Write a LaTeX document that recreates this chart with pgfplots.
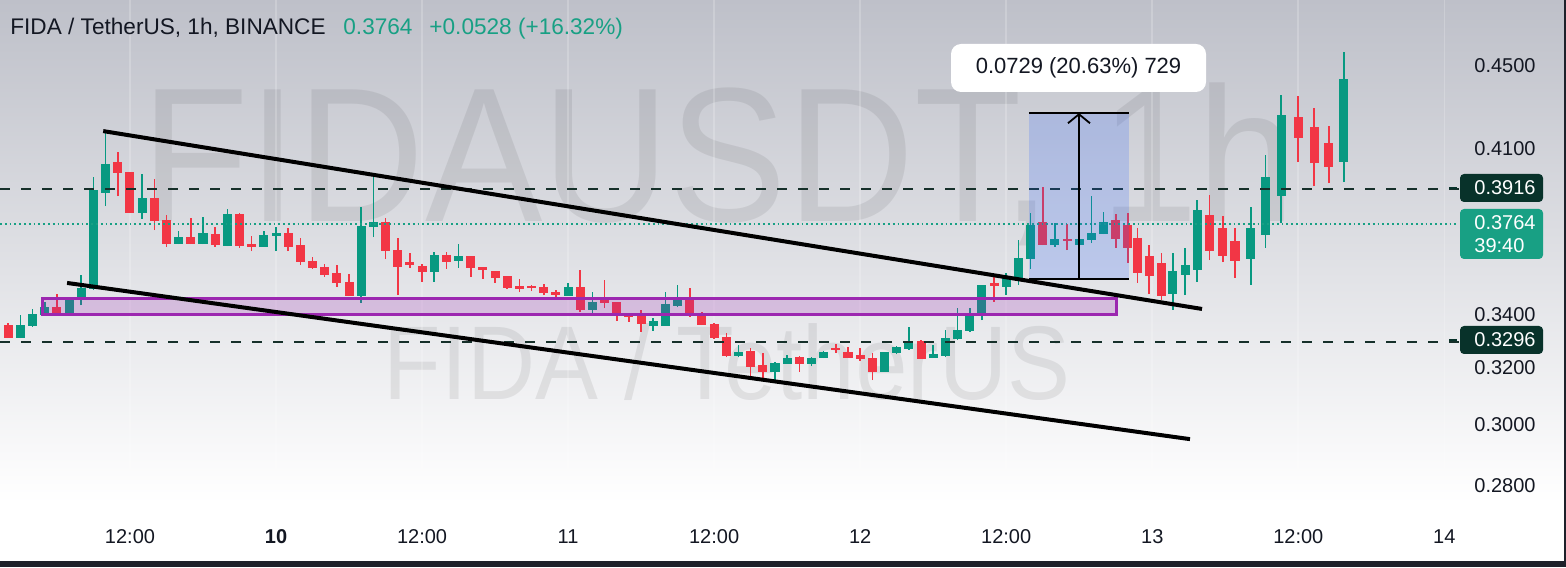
\documentclass[border=0pt]{standalone}
\usepackage{pgfplots}
\pgfplotsset{compat=1.18}
\usepackage{pgfplotstable}
\usepackage{graphicx}
\usepackage{fontspec}
\setmainfont{Liberation Sans}
\usetikzlibrary{arrows.meta}

\definecolor{up}{RGB}{8,153,129}
\definecolor{down}{RGB}{242,54,69}
\definecolor{tvdark}{RGB}{8,50,42}
\definecolor{tvteal}{RGB}{24,160,132}
\definecolor{bgtop}{RGB}{190,192,201}
\definecolor{purp}{RGB}{156,39,176}
\definecolor{measure}{RGB}{41,98,255}
\definecolor{txt}{RGB}{19,23,34}
\definecolor{barcol}{RGB}{30,33,42}
\definecolor{priceline}{RGB}{22,48,42}

\newcommand\tfont{\fontsize{10}{12}\selectfont}

% hourly candles, t = hours after 10 00:00, prices in USDT
\pgfplotstableread{
t o h l c
-22 0.3355 0.3366 0.3309 0.3313
-21 0.3313 0.3397 0.3309 0.3355
-20 0.3355 0.3420 0.3351 0.3400
-19 0.3397 0.3447 0.3393 0.3427
-18 0.3427 0.3478 0.3400 0.3404
-17 0.3404 0.3466 0.3400 0.3455
-16 0.3455 0.3554 0.3435 0.3498
-15 0.3498 0.3970 0.3494 0.3912
-14 0.3903 0.4186 0.3842 0.4028
-13 0.4033 0.4083 0.3885 0.3988
-12 0.3988 0.3992 0.3811 0.3816
-11 0.3816 0.3983 0.3786 0.3877
-10 0.3877 0.3961 0.3739 0.3781
-9 0.3781 0.3803 0.3668 0.3684
-8 0.3684 0.3735 0.3680 0.3709
-7 0.3709 0.3790 0.3680 0.3684
-6 0.3684 0.3794 0.3680 0.3726
-5 0.3722 0.3752 0.3668 0.3680
-4 0.3676 0.3829 0.3672 0.3807
-3 0.3807 0.3811 0.3664 0.3676
-2 0.3680 0.3714 0.3651 0.3672
-1 0.3672 0.3735 0.3668 0.3714
0 0.3714 0.3752 0.3651 0.3726
1 0.3726 0.3747 0.3651 0.3672
2 0.3676 0.3705 0.3594 0.3610
3 0.3610 0.3627 0.3578 0.3586
4 0.3586 0.3598 0.3546 0.3554
5 0.3558 0.3594 0.3506 0.3522
6 0.3522 0.3558 0.3470 0.3474
7 0.3474 0.3837 0.3443 0.3752
8 0.3752 0.3988 0.3709 0.3773
9 0.3773 0.3790 0.3618 0.3655
10 0.3655 0.3705 0.3474 0.3590
11 0.3606 0.3643 0.3582 0.3598
12 0.3590 0.3598 0.3526 0.3566
13 0.3566 0.3647 0.3526 0.3635
14 0.3631 0.3647 0.3578 0.3610
15 0.3614 0.3680 0.3582 0.3627
16 0.3627 0.3631 0.3546 0.3582
17 0.3582 0.3586 0.3538 0.3574
18 0.3566 0.3570 0.3522 0.3542
19 0.3546 0.3550 0.3498 0.3502
20 0.3506 0.3538 0.3486 0.3498
21 0.3506 0.3514 0.3490 0.3502
22 0.3502 0.3518 0.3474 0.3486
23 0.3486 0.3494 0.3466 0.3478
24 0.3474 0.3522 0.3470 0.3502
25 0.3502 0.3574 0.3408 0.3416
26 0.3416 0.3486 0.3400 0.3443
27 0.3451 0.3534 0.3423 0.3443
28 0.3443 0.3447 0.3374 0.3397
29 0.3400 0.3404 0.3370 0.3389
30 0.3397 0.3416 0.3332 0.3366
31 0.3358 0.3385 0.3336 0.3370
32 0.3358 0.3486 0.3355 0.3439
33 0.3435 0.3514 0.3427 0.3466
34 0.3466 0.3502 0.3389 0.3393
35 0.3404 0.3408 0.3358 0.3362
36 0.3362 0.3366 0.3306 0.3313
37 0.3313 0.3328 0.3239 0.3246
38 0.3246 0.3283 0.3239 0.3257
39 0.3261 0.3272 0.3167 0.3206
40 0.3210 0.3254 0.3160 0.3185
41 0.3185 0.3221 0.3149 0.3217
42 0.3217 0.3246 0.3214 0.3235
43 0.3239 0.3243 0.3185 0.3217
44 0.3217 0.3239 0.3206 0.3235
45 0.3239 0.3261 0.3235 0.3257
46 0.3272 0.3287 0.3254 0.3265
47 0.3254 0.3276 0.3235 0.3239
48 0.3243 0.3272 0.3224 0.3235
49 0.3235 0.3254 0.3156 0.3188
50 0.3188 0.3257 0.3185 0.3254
51 0.3254 0.3280 0.3250 0.3276
52 0.3272 0.3351 0.3265 0.3295
53 0.3298 0.3302 0.3232 0.3235
54 0.3239 0.3283 0.3235 0.3250
55 0.3243 0.3339 0.3239 0.3309
56 0.3306 0.3423 0.3302 0.3336
57 0.3336 0.3423 0.3332 0.3397
58 0.3397 0.3514 0.3377 0.3510
59 0.3518 0.3554 0.3447 0.3510
60 0.3506 0.3562 0.3474 0.3542
61 0.3538 0.3697 0.3514 0.3622
62 0.3622 0.3811 0.3578 0.3760
63 0.3769 0.3925 0.3676 0.3680
64 0.3680 0.3769 0.3668 0.3697
65 0.3701 0.3764 0.3655 0.3693
66 0.3680 0.3781 0.3676 0.3701
67 0.3697 0.3885 0.3684 0.3726
68 0.3726 0.3816 0.3722 0.3769
69 0.3781 0.3807 0.3664 0.3705
70 0.3760 0.3811 0.3602 0.3664
70.8 0.3705 0.3747 0.3522 0.3562
71.75 0.3627 0.3676 0.3478 0.3550
72.75 0.3602 0.3643 0.3455 0.3474
73.7 0.3482 0.3643 0.3416 0.3566
74.7 0.3554 0.3664 0.3474 0.3594
75.7 0.3574 0.3868 0.3526 0.3824
76.7 0.3803 0.3890 0.3614 0.3655
77.8 0.3747 0.3799 0.3606 0.3635
78.8 0.3689 0.3747 0.3542 0.3614
80.1 0.3622 0.3837 0.3514 0.3747
81.3 0.3718 0.4070 0.3664 0.3970
82.6 0.3890 0.4355 0.3769 0.4253
84.0 0.4248 0.4350 0.4037 0.4153
85.3 0.4196 0.4291 0.3929 0.4033
86.5 0.4125 0.4205 0.3943 0.4019
87.75 0.4042 0.4572 0.3947 0.4434
}\candles
\pgfplotstablegetrowsof{\candles}
\pgfmathtruncatemacro\lastrow{\pgfplotsretval-1}

\begin{document}
\begin{tikzpicture}
\useasboundingbox (0,0) rectangle (783pt,283.5pt);

% background and watermark, in pixel units (y downwards)
\begin{scope}[x=0.5pt,y=-0.5pt,yshift=283.5pt]
  \shade[top color=bgtop, bottom color=white] (0,0) rectangle (1566,503);
  \fill[white] (0,503) rectangle (1566,561);
  \fill[barcol] (0,561) rectangle (1566,567);
  \fill[barcol] (1564,0) rectangle (1566,561);
  \node[anchor=base west, inner sep=0, text=black, text opacity=0.075,
        font=\fontsize{95.7}{100}\selectfont] at (141,222) {\scalebox{0.92}[1]{FIDAUSDT, 1h}};
  \node[anchor=base west, inner sep=0, text=black, text opacity=0.075,
        font=\fontsize{52.4}{56}\selectfont] at (383,400) {\scalebox{0.9}[1]{FIDA / TetherUS}};
\end{scope}

\begin{axis}[
  at={(0pt,32pt)}, anchor=south west,
  scale only axis, width=730pt, height=251.5pt,
  xmin=-22.68, xmax=97.29,
  ymode=log, ymin=0.27464, ymax=0.48484,
  axis line style={draw=none},
  tick style={draw=none},
  major tick length=0pt,
  xmajorgrids=true,
  grid style={white, line width=0.8pt, opacity=0.2},
  xtick={-12,0,12,24,36,48,60,72,84,96},
  xticklabels={12:00,\textbf{10},12:00,11,12:00,12,12:00,13,12:00,14},
  xticklabel style={anchor=base, yshift=-20.2pt, font=\tfont, text=txt},
  ytick={0.28,0.30,0.32,0.34,0.41,0.45},
  yticklabels={0.2800,0.3000,0.3200,0.3400,0.4100,0.4500},
  yticklabel pos=right,
  yticklabel style={anchor=west, inner sep=0pt, xshift=7pt, font=\tfont, text=txt},
]
  % candles
  \pgfplotsinvokeforeach{0,...,\lastrow}{
    \pgfplotstablegetelem{#1}{t}\of\candles \let\cT\pgfplotsretval
    \pgfplotstablegetelem{#1}{o}\of\candles \let\cO\pgfplotsretval
    \pgfplotstablegetelem{#1}{h}\of\candles \let\cH\pgfplotsretval
    \pgfplotstablegetelem{#1}{l}\of\candles \let\cL\pgfplotsretval
    \pgfplotstablegetelem{#1}{c}\of\candles \let\cC\pgfplotsretval
    \pgfmathsetmacro\xl{\cT-0.33}
    \pgfmathsetmacro\xr{\cT+0.33}
    \ifdim\cC pt<\cO pt \def\ccol{down}\else\def\ccol{up}\fi
    \edef\doit{%
      \noexpand\addplot[draw=\ccol, line width=0.8pt] coordinates {(\cT,\cL) (\cT,\cH)};
      \noexpand\addplot[fill=\ccol, draw=\ccol, line width=0.5pt]
        coordinates {(\xl,\cO) (\xr,\cO) (\xr,\cC) (\xl,\cC)} --cycle;
    }\doit
  }

  % price lines
  \addplot[priceline, line width=1pt, dash pattern=on 5pt off 5.5pt] coordinates {(-22.68,0.3916) (97.2,0.3916)};
  \addplot[priceline, line width=1pt, dash pattern=on 5pt off 5.5pt] coordinates {(-22.68,0.3296) (97.2,0.3296)};
  \addplot[tvteal, line width=1pt, dash pattern=on 0.9pt off 1.5pt] coordinates {(-22.68,0.3764) (97.2,0.3764)};

  % support zone
  \addplot[draw=purp, line width=1.5pt, fill=purp, fill opacity=0.22]
    coordinates {(-19.15,0.3462) (69.1,0.3462) (69.1,0.3400) (-19.15,0.3400)} --cycle;

  % descending channel
  \addplot[black, line width=2pt] coordinates {(-14.2,0.4181) (76.09,0.3420)};
  \addplot[black, line width=2pt] coordinates {(-17.17,0.3522) (75.1,0.2952)};

  % price range measure
  \addplot[draw=none, fill=measure, fill opacity=0.2]
    coordinates {(61.87,0.3538) (70.09,0.3538) (70.09,0.4267) (61.87,0.4267)} --cycle;
  \addplot[black, line width=0.9pt] coordinates {(61.87,0.4267) (70.09,0.4267)};
  \addplot[black, line width=0.9pt] coordinates {(61.87,0.3538) (70.09,0.3538)};
  \addplot[black, line width=0.9pt, -{Straight Barb[length=4.5pt,width=11pt]}]
    coordinates {(65.98,0.3538) (65.98,0.4267)};
\end{axis}

% overlays in pixel units
\begin{scope}[x=0.5pt,y=-0.5pt,yshift=283.5pt]
  \node[anchor=base west, inner sep=0, text=txt, font=\fontsize{11.3}{13}\selectfont]
    at (10,35) {FIDA / TetherUS, 1h, BINANCE};
  \node[anchor=base west, inner sep=0, text=tvteal, font=\fontsize{11.3}{13}\selectfont]
    at (343,35) {0.3764\hspace{0.75em}+0.0528 (+16.32\%)};

  \fill[white, rounded corners=5pt] (951,44) rectangle (1206,92);
  \node[text=txt, font=\fontsize{11}{13}\selectfont] at (1078.5,68) {0.0729 (20.63\%) 729};

  \draw[tvdark, line width=1pt] (1449,188) -- (1457,188);
  \draw[tvdark, line width=1pt] (1449,340) -- (1457,340);
  \fill[tvdark, rounded corners=2pt] (1460,174) rectangle (1543,202);
  \fill[tvteal, rounded corners=2pt] (1460,209) rectangle (1543,259);
  \fill[tvdark, rounded corners=2pt] (1460,326) rectangle (1543,354);
  \node[anchor=west, inner sep=0, text=white, font=\tfont] at (1474,188) {0.3916};
  \node[anchor=west, inner sep=0, text=white, font=\tfont] at (1474,223) {0.3764};
  \node[anchor=west, inner sep=0, text=white, font=\tfont] at (1474,246) {39:40};
  \node[anchor=west, inner sep=0, text=white, font=\tfont] at (1474,340) {0.3296};
\end{scope}
\end{tikzpicture}
\end{document}
